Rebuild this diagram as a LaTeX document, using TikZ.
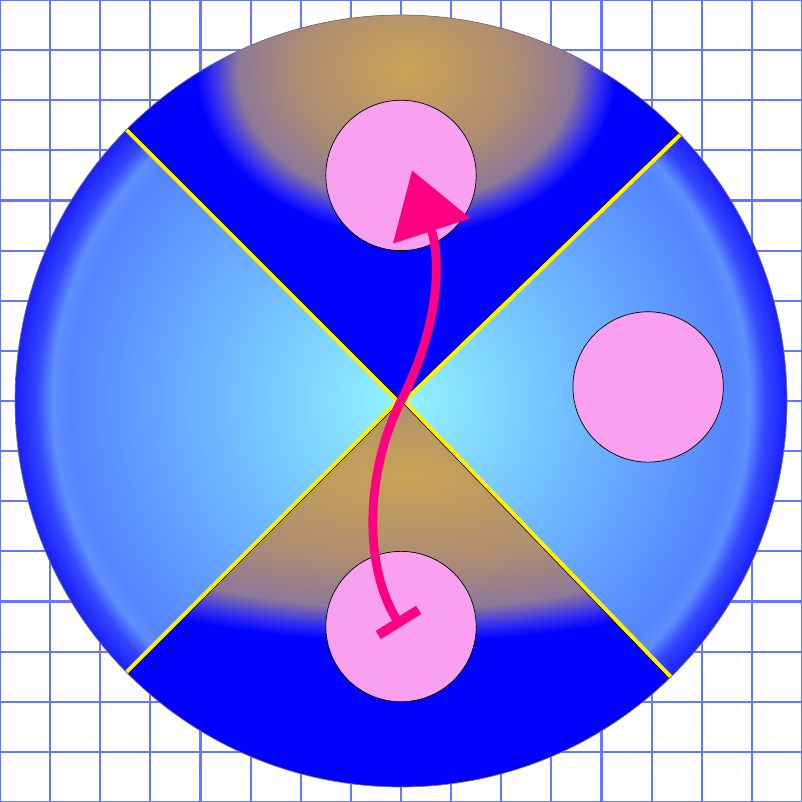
\documentclass[tikz,border=0pt]{standalone}
\usetikzlibrary{arrows.meta}
\definecolor{gridblue}{RGB}{102,119,255}
\definecolor{pinkdot}{RGB}{249,160,240}
\definecolor{flowpink}{RGB}{255,0,128}
\pgfdeclareradialshading{lobe}{\pgfpoint{0bp}{0bp}}{%
  rgb(0bp)=(0.58,0.96,1);
  rgb(10bp)=(0.45,0.76,1);
  rgb(21.5bp)=(0.33,0.52,1);
  rgb(22.6bp)=(0.37,0.56,1);
  rgb(23.6bp)=(0.20,0.28,1);
  rgb(25bp)=(0.10,0.12,1);
  rgb(50bp)=(0.10,0.12,1)}
\pgfdeclareradialshading{glow}{\pgfpoint{0bp}{0bp}}{%
  rgb(0bp)=(0.79,0.64,0.33);
  rgb(13bp)=(0.68,0.55,0.45);
  rgb(20bp)=(0.55,0.47,0.60);
  rgb(23bp)=(0.20,0.18,0.95);
  rgb(25bp)=(0,0,1);
  rgb(50bp)=(0,0,1)}
\def\rad{7.7}

\begin{document}
\begin{tikzpicture}[
gridline/.style={
  draw=gridblue,
  line width=1.2pt
  },
rim/.style={
  draw=black!55,
  line width=0.4pt
  },
seam/.style={
  draw=yellow,
  line width=5pt
  },
cut/.style={
  draw=black,
  line width=0.3pt
  },
dot/.style={
  draw=black,
  fill=pinkdot,
  circle,
  line width=0.4pt,
  minimum size=3cm,
  inner sep=0pt
  },
flow/.style={
  draw=flowpink,
  line width=5pt,
  {Bar[width=0.95cm,line width=5.5pt]}-{Triangle[length=1.27cm,width=1.58cm]}
  }
]
\useasboundingbox (0,0) rectangle (16,16);
\draw[gridline] (0,0) grid (16,16);
\coordinate (C) at (8,8);
% side lobes
\begin{scope}
  \clip (C) -- +(135:\rad) arc[start angle=135,end angle=225,radius=\rad] -- cycle
        (C) -- +(-46:\rad) arc[start angle=-46,end angle=44,radius=\rad] -- cycle;
  \shade[shading=lobe] (C) circle (\rad);
\end{scope}
\foreach \a in {44,135,225,-46}
  \draw[seam] (C) -- +(\a:\rad);
% top lobe
\begin{scope}
  \clip (C) -- +(44:\rad) arc[start angle=44,end angle=135,radius=\rad] -- cycle;
  \fill[blue] (C) circle (\rad);
  \shade[shading=glow] (8.1,14.6) ellipse (4.2 and 3.3);
\end{scope}
% bottom lobe
\begin{scope}
  \clip (C) -- +(225:\rad) arc[start angle=225,end angle=314,radius=\rad] -- cycle;
  \fill[blue] (C) circle (\rad);
  \shade[shading=glow] (8.1,6.5) ellipse (9 and 3.3);
\end{scope}
\foreach \a in {44,135,225,-46}
  \draw[cut] (C) -- +(\a:\rad);
\draw[rim] (C) circle (\rad);
\node[dot] (up) at (8,12.5) {};
\node[dot] (side) at (12.93,8.28) {};
\node[dot] (down) at (8,3.5) {};
\coordinate (tip) at (8.22,12.6);
\draw[flow] (down.center) to[out=122,in=-117,looseness=0.85] (C) to[out=63,in=-72] (tip);
\end{tikzpicture}
\end{document}
